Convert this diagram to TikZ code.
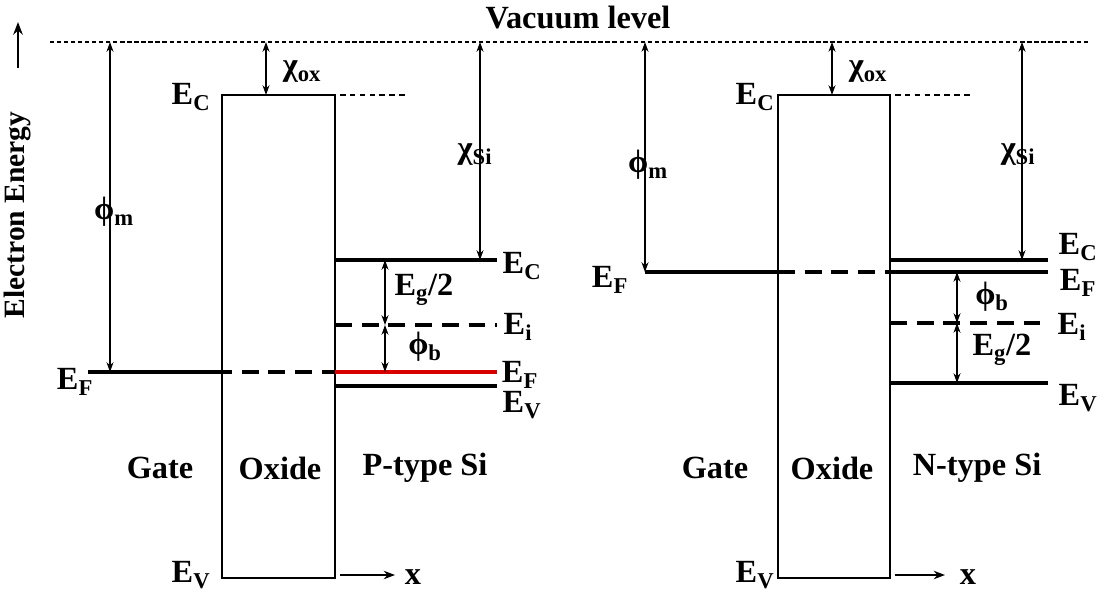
\documentclass[tikz,border=0pt]{standalone}
\usepackage{fontspec}
\setmainfont{Liberation Serif}
\usetikzlibrary{arrows.meta}
\begin{document}
\begin{tikzpicture}[x=0.025cm,y=-0.025cm,
  lbl/.style={font=\fontsize{23}{26}\selectfont\bfseries,inner sep=0pt},
  lvl/.style={line width=2.2pt},
  dlvl/.style={line width=2.2pt,dash pattern=on 12pt off 7pt},
  dim/.style={line width=0.9pt,{Stealth[length=7pt,width=5pt]}-{Stealth[length=7pt,width=5pt]}},
  box/.style={draw,line width=1.5pt}]
\useasboundingbox (0,0) rectangle (1104,600);
\draw[dash pattern=on 3pt off 2pt,line width=0.8pt] (50,42) coordinate (v0) -- (1090,42) coordinate (v1);
\node[lbl] (vac) at (578,18) {Vacuum level};
\node[lbl,rotate=90,font=\fontsize{21}{24}\selectfont\bfseries] (ee) at (18,215) {Electron Energy};
\draw[line width=1.8pt,-{Stealth[length=9pt]}] (18,68) coordinate (ea) -- (18,22) coordinate (eb);
% ---- left
\draw[box] (222,95) rectangle (335,578);
\node[lbl] (lec) at (191,97) {E\textsubscript{C}};
\node[lbl] (lev) at (191,575) {E\textsubscript{V}};
\draw[dash pattern=on 4pt off 3pt,line width=0.9pt] (340,95) coordinate (la) -- (405,95) coordinate (lb);
\draw[dim] (266,42) coordinate (c1) -- (266,95) coordinate (c2);
\node[lbl] at (302,72) {χ\textsubscript{ox}};
\draw[dim] (110,42) coordinate (m1) -- (110,372) coordinate (m2);
\node[lbl] at (114,212) {ϕ\textsubscript{m}};
\draw[lvl] (88,372) coordinate (f1) -- (215,372) coordinate (f2);
\draw[dlvl] (215,372) -- (335,372) coordinate (f3);
\draw[lvl,red!85!black] (f3) -- (497,372) coordinate (f4);
\node[lbl] at (75,382) {E\textsubscript{F}};
\draw[lvl] (335,260) coordinate (ec1) -- (497,260) coordinate (ec2);
\draw[dlvl] (335,325) coordinate (ei1) -- (497,325) coordinate (ei2);
\draw[lvl] (335,386) coordinate (ev1) -- (497,386) coordinate (ev2);
\node[lbl] at (522,266) {E\textsubscript{C}};
\node[lbl] at (518,327) {E\textsubscript{i}};
\node[lbl] at (520,375) {E\textsubscript{F}};
\node[lbl] at (522,405) {E\textsubscript{V}};
\draw[dim] (480,42) -- (480,260);
\node[lbl] at (475,155) {χ\textsubscript{Si}};
\draw[dim] (385,260) -- (385,325);
\node[lbl] at (424,290) {E\textsubscript{g}/2};
\draw[dim] (385,325) -- (385,372);
\node[lbl] at (425,347) {ϕ\textsubscript{b}};
\node[lbl] at (160,468) {Gate};
\node[lbl] at (280,468) {Oxide};
\node[lbl] at (425,468) {P-type Si};
\draw[line width=1.3pt,-{Stealth[length=8pt]}] (340,575) coordinate (x1) -- (395,575) coordinate (x2);
\node[lbl] at (413,577) {x};
% ---- right
\draw[box] (778,95) rectangle (890,578);
\node[lbl] at (755,97) {E\textsubscript{C}};
\node[lbl] at (755,575) {E\textsubscript{V}};
\draw[dash pattern=on 4pt off 3pt,line width=0.9pt] (895,95) -- (970,95);
\draw[dim] (832,42) -- (832,95);
\node[lbl] at (868,72) {χ\textsubscript{ox}};
\draw[dim] (645,42) -- (645,272);
\node[lbl] at (648,165) {ϕ\textsubscript{m}};
\draw[lvl] (645,272) -- (778,272);
\draw[dlvl] (778,272) -- (890,272);
\draw[lvl] (890,272) -- (1048,272);
\draw[lvl] (890,260) -- (1048,260);
\draw[dlvl] (890,323) -- (1048,323);
\draw[lvl] (890,383) -- (1048,383);
\node[lbl] at (610,280) {E\textsubscript{F}};
\node[lbl] at (1078,247) {E\textsubscript{C}};
\node[lbl] at (1078,283) {E\textsubscript{F}};
\node[lbl] at (1072,327) {E\textsubscript{i}};
\node[lbl] at (1078,398) {E\textsubscript{V}};
\draw[dim] (1022,42) -- (1022,260);
\node[lbl] at (1018,155) {χ\textsubscript{Si}};
\draw[dim] (957,272) -- (957,323);
\node[lbl] at (992,297) {ϕ\textsubscript{b}};
\draw[dim] (957,323) -- (957,383);
\node[lbl] at (1002,350) {E\textsubscript{g}/2};
\node[lbl] at (715,468) {Gate};
\node[lbl] at (832,468) {Oxide};
\node[lbl] at (977,468) {N-type Si};
\draw[line width=1.3pt,-{Stealth[length=8pt]}] (895,575) -- (945,575);
\node[lbl] at (968,577) {x};
\end{tikzpicture}
\end{document}
